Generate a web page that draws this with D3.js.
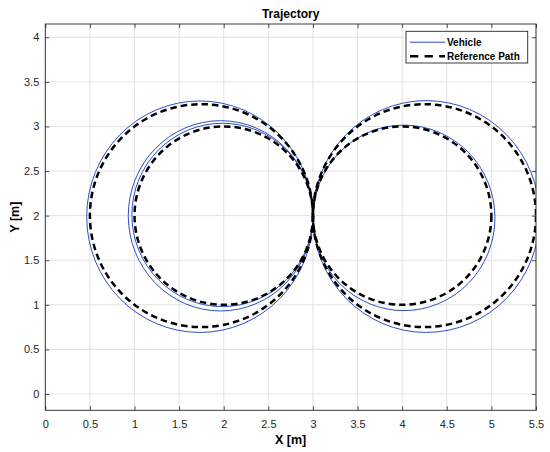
<!DOCTYPE html>
<html>
<head>
<meta charset="utf-8">
<script src="https://cdn.jsdelivr.net/npm/d3@7"></script>
<style>
  html, body { margin: 0; padding: 0; background: #fff; }
  svg { display: block; font-family: "Liberation Sans", Arial, Helvetica, sans-serif; }
</style>
</head>
<body>
<svg id="chart" width="550" height="452"></svg>
<script>
// ---- Data ----
const xTicks = [0, 0.5, 1, 1.5, 2, 2.5, 3, 3.5, 4, 4.5, 5, 5.5];
const xTickLabels = ["0", "0.5", "1", "1.5", "2", "2.5", "3", "3.5", "4", "4.5", "5", "5.5"];
const yTicks = [0, 0.5, 1, 1.5, 2, 2.5, 3, 3.5, 4];
const yTickLabels = ["0", "0.5", "1", "1.5", "2", "2.5", "3", "3.5", "4"];
const xDomain = [0, 5.5];
const yDomain = [-0.183, 4.149];

// Vehicle trajectory loops (approximately elliptical): centre x, centre y, radius x, radius y
const vehicleCx = [1.732, 1.965, 1.985, 4.02, 4.27];
const vehicleCy = [1.988, 1.998, 2.008, 1.975, 1.99];
const vehicleRx = [1.268, 1.035, 1.015, 1.02, 1.27];
const vehicleRy = [1.298, 1.067, 1.028, 1.04, 1.30];

// Reference path circles: centre x, centre y, radius
const refCx = [2, 4, 1.75, 4.25];
const refCy = [2, 2, 2, 2];
const refR = [1, 1, 1.25, 1.25];

const legendLabels = ["Vehicle", "Reference Path"];
const titleText = "Trajectory";
const xLabelText = "X [m]";
const yLabelText = "Y [m]";

// ---- Layout ----
const L = 45.3, R = 536, T = 24, B = 410.3;
const svg = d3.select("#chart");
const x = d3.scaleLinear().domain(xDomain).range([L, R]);
const y = d3.scaleLinear().domain(yDomain).range([B, T]);
const axisColor = "#262626";
const gridColor = "#e2e2e2";
const blue = "#2e4fc6";

// Background
svg.append("rect").attr("x", L).attr("y", T).attr("width", R - L).attr("height", B - T).attr("fill", "#fff");

// Grid
const grid = svg.append("g");
grid.selectAll("line.gx").data(xTicks).enter().append("line")
  .attr("x1", d => x(d)).attr("x2", d => x(d)).attr("y1", T).attr("y2", B)
  .attr("stroke", gridColor).attr("stroke-width", 1);
grid.selectAll("line.gy").data(yTicks).enter().append("line")
  .attr("y1", d => y(d)).attr("y2", d => y(d)).attr("x1", L).attr("x2", R)
  .attr("stroke", gridColor).attr("stroke-width", 1);

// Clip
svg.append("defs").append("clipPath").attr("id", "clip")
  .append("rect").attr("x", L).attr("y", T).attr("width", R - L).attr("height", B - T);

const plot = svg.append("g").attr("clip-path", "url(#clip)");

// Vehicle loops
const vehicleData = vehicleCx.map((cx, i) => ({cx, cy: vehicleCy[i], rx: vehicleRx[i], ry: vehicleRy[i]}));
plot.selectAll("ellipse.veh").data(vehicleData).enter().append("ellipse")
  .attr("cx", d => x(d.cx)).attr("cy", d => y(d.cy))
  .attr("rx", d => x(d.rx) - x(0)).attr("ry", d => y(0) - y(d.ry))
  .attr("fill", "none").attr("stroke", blue).attr("stroke-width", 1);

// Reference path circles
const refData = refCx.map((cx, i) => ({cx, cy: refCy[i], r: refR[i]}));
plot.selectAll("ellipse.ref").data(refData).enter().append("ellipse")
  .attr("cx", d => x(d.cx)).attr("cy", d => y(d.cy))
  .attr("rx", d => x(d.r) - x(0)).attr("ry", d => y(0) - y(d.r))
  .attr("fill", "none").attr("stroke", "#000").attr("stroke-width", 2.5)
  .attr("stroke-dasharray", "6.5,4");

// Axes
function styleAxis(g) {
  g.select(".domain").remove();
  g.selectAll(".tick line").attr("stroke", axisColor).attr("stroke-width", 0.8);
  g.selectAll(".tick text").attr("fill", axisColor).attr("font-size", "11px");
}
svg.append("g").attr("transform", `translate(0,${B})`)
  .call(d3.axisBottom(x).tickValues(xTicks).tickFormat((d, i) => xTickLabels[i]).tickSize(-4).tickPadding(9.5))
  .call(styleAxis);
svg.append("g").attr("transform", `translate(0,${T})`)
  .call(d3.axisTop(x).tickValues(xTicks).tickFormat("").tickSize(-4))
  .call(styleAxis);
svg.append("g").attr("transform", `translate(${L},0)`)
  .call(d3.axisLeft(y).tickValues(yTicks).tickFormat((d, i) => yTickLabels[i]).tickSize(-4).tickPadding(6))
  .call(styleAxis);
svg.append("g").attr("transform", `translate(${R},0)`)
  .call(d3.axisRight(y).tickValues(yTicks).tickFormat("").tickSize(-4))
  .call(styleAxis);
svg.selectAll(".tick text").attr("font-family", "'Liberation Sans', Arial, sans-serif");

// Box
svg.append("rect").attr("x", L).attr("y", T).attr("width", R - L).attr("height", B - T)
  .attr("fill", "none").attr("stroke", axisColor).attr("stroke-width", 0.9);

// Title and labels
svg.append("text").attr("x", (L + R) / 2).attr("y", 17.5).attr("text-anchor", "middle")
  .attr("font-size", "12px").attr("font-weight", "bold").attr("fill", "#000").text(titleText);
svg.append("text").attr("x", (L + R) / 2).attr("y", 443.5).attr("text-anchor", "middle")
  .attr("font-size", "12.5px").attr("font-weight", "bold").attr("fill", "#000").text(xLabelText);
svg.append("text").attr("transform", `translate(18.5,${(T + B) / 2}) rotate(-90)`).attr("text-anchor", "middle")
  .attr("font-size", "12.5px").attr("font-weight", "bold").attr("fill", "#000").text(yLabelText);

// Legend
const lg = svg.append("g");
lg.append("rect").attr("x", 406).attr("y", 31.3).attr("width", 121.7).attr("height", 31.7)
  .attr("fill", "#fff").attr("stroke", axisColor).attr("stroke-width", 0.9);
lg.append("line").attr("x1", 410).attr("x2", 445).attr("y1", 42.2).attr("y2", 42.2)
  .attr("stroke", blue).attr("stroke-width", 1);
lg.append("line").attr("x1", 410).attr("x2", 445).attr("y1", 56.3).attr("y2", 56.3)
  .attr("stroke", "#000").attr("stroke-width", 2.5).attr("stroke-dasharray", "8.3,6.3");
lg.append("text").attr("x", 447).attr("y", 45.8).attr("font-size", "10px").attr("font-weight", "bold")
  .attr("fill", "#000").text(legendLabels[0]);
lg.append("text").attr("x", 447).attr("y", 60).attr("font-size", "10px").attr("font-weight", "bold")
  .attr("fill", "#000").text(legendLabels[1]);
</script>
</body>
</html>
